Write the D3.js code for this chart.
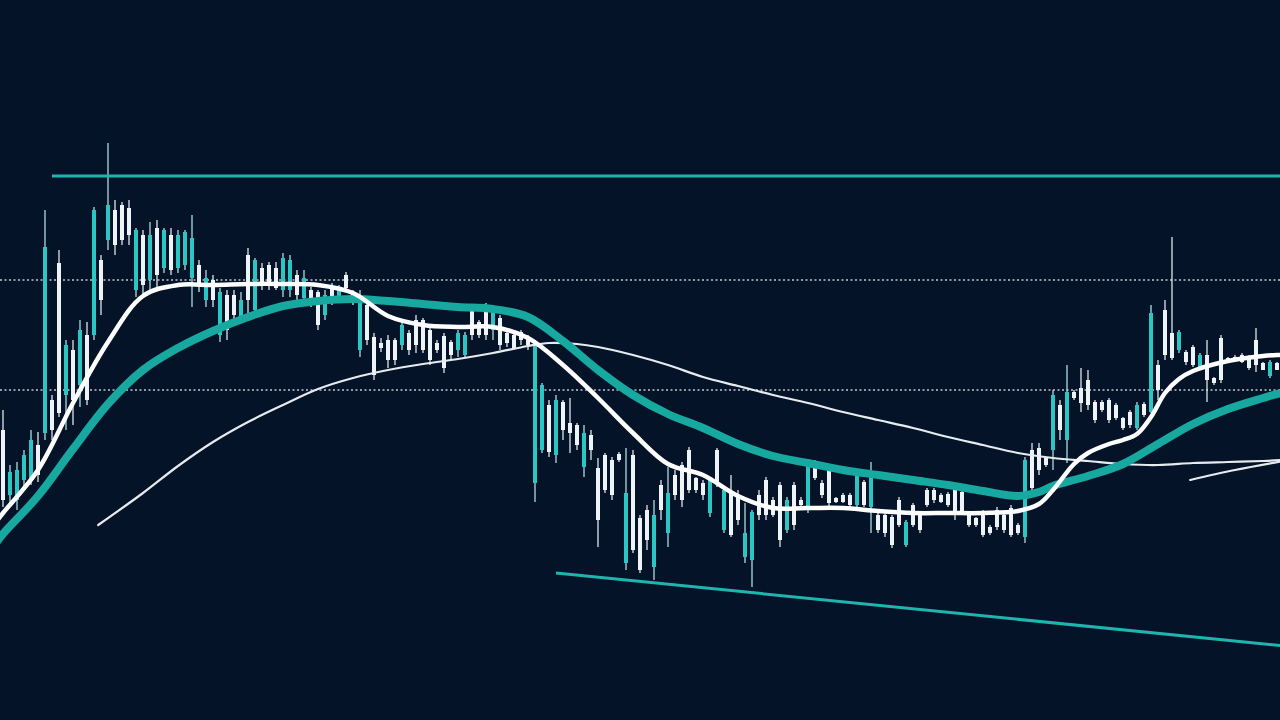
<!DOCTYPE html>
<html><head><meta charset="utf-8">
<script src="https://cdn.jsdelivr.net/npm/d3@7"></script>
<style>html,body{margin:0;padding:0;background:#041327;overflow:hidden}</style>
</head><body><svg id="c" width="1280" height="720"></svg>
<script>
// Candles: [open, high, low, close]
const candles = [
[220,310,213,290],[248,255,215,225],[250,258,210,220],[265,270,232,240],[280,290,235,242],
[245,288,238,275],[473,510,280,287],[290,325,280,320],[307,470,303,457],[375,380,290,325],
[320,380,295,370],[390,400,313,335],[320,398,315,385],[510,513,380,385],[420,465,405,460],
[515,577,470,480],[475,520,465,510],[480,518,475,515],[485,520,475,512],[490,492,423,430],
[435,490,425,485],[485,498,427,440],[445,500,430,492],[490,492,447,452],[450,492,445,485],
[485,490,447,452],[488,490,450,455],[482,505,413,442],[435,460,428,455],[442,450,413,420],
[420,445,413,440],[428,432,378,385],[390,430,380,425],[405,430,400,425],[420,428,398,402],
[420,472,403,465],[460,462,403,410],[435,457,430,452],[435,458,430,455],[432,458,430,452],
[462,467,423,430],[460,465,423,430],[425,450,417,445],[442,450,417,422],[418,433,413,430],
[395,430,390,428],[425,430,400,405],[420,437,415,434],[432,435,418,422],[432,448,430,445],
[420,430,415,428],[420,430,363,370],[380,420,375,415],[345,387,340,383],[372,382,368,377],
[360,385,352,380],[360,382,355,380],[395,398,370,375],[370,390,365,387],[375,405,367,400],
[370,402,367,400],[360,392,355,390],[370,380,367,377],[352,387,347,384],[365,380,360,378],
[387,390,363,370],[385,388,363,365],[385,415,380,412],[385,400,382,398],[385,417,380,414],
[412,415,380,390],[375,405,370,402],[377,390,373,387],[372,387,370,385],[380,390,375,388],
[375,385,370,383],[375,380,218,237],[335,337,267,270],[268,320,263,315],[320,325,257,265],
[290,320,280,318],[287,322,267,297],[275,297,270,295],[287,295,243,253],[270,290,260,285],
[200,262,173,252],[230,267,227,265],[225,263,220,260],[260,268,258,266],[227,272,150,157],
[170,270,167,265],[150,205,147,202],[180,215,170,210],[205,220,140,153],[210,240,200,235],
[227,253,173,187],[225,250,220,245],[220,258,213,255],[230,273,227,270],[230,243,227,242],
[225,240,220,237],[240,243,203,207],[237,272,233,270],[230,233,187,190],[185,245,183,228],
[200,230,195,225],[187,217,157,163],[208,210,133,160],[205,230,200,225],[205,243,200,240],
[205,223,203,220],[180,238,173,235],[220,223,187,190],[195,238,190,235],[215,223,213,220],
[255,257,207,210],[242,260,240,258],[225,240,222,237],[217,252,213,250],[218,223,217,222],
[218,227,217,225],[215,227,213,225],[245,247,213,215],[215,240,213,238],[243,258,187,213],
[190,207,187,205],[187,207,183,205],[175,205,172,203],[195,223,193,220],[198,200,173,175],
[195,217,193,215],[190,207,187,205],[215,232,213,230],[220,232,217,230],[218,227,217,225],
[215,228,213,226],[205,232,200,230],[208,230,205,228],[195,207,193,205],[195,203,193,202],
[185,210,183,208],[187,195,185,193],[193,213,190,210],[190,207,187,205],[185,215,183,212],
[187,197,185,195],[260,263,177,183],[232,277,227,270],[250,277,245,272],[255,263,253,262],
[325,330,250,270],[290,320,280,315],[328,355,257,280],[322,330,320,328],[317,352,308,332],
[315,350,310,340],[300,320,297,318],[310,320,308,318],[300,322,297,320],[302,317,300,315],
[292,303,290,302],[295,310,292,308],[315,318,290,292],[305,318,303,316],[407,415,307,308],
[330,360,320,355],[365,420,360,410],[362,483,360,387],[388,390,367,370],[358,370,355,368],
[355,375,353,373],[365,367,350,352],[340,380,318,365],[337,343,335,342],[340,385,337,382],
[358,363,357,362],[360,365,358,363],[358,367,357,365],[352,365,350,363],[355,392,348,380],
[350,358,350,357],[358,360,342,344],[350,358,350,357]
];

// Moving averages: [bar index, value]
const fastMA = [[-1,198],[0,207],[5,250],[10,317],[15,378],[20,424],[25,435],[30,435],[35,436],[40,436],[45,435],[50,427],[55,404],[60,395],[65,393],[70,393],[75,382],[80,355],[85,322],[90,287],[95,256],[100,245],[105,224],[110,212],[115,212],[120,212],[125,209],[130,207],[135,207],[140,207],[145,209],[148,216],[150,230],[153,256],[155,267],[158,276],[160,280],[162,286],[164,303],[166,327],[168,341],[170,349],[175,359],[180,364],[182,365],[183,365]];
const mediumMA = [[-1,177],[0,186],[5,224],[10,271],[15,316],[20,350],[25,372],[30,389],[35,403],[40,414],[45,419],[50,421],[55,419],[60,416],[65,413],[70,411],[75,403],[80,379],[85,350],[90,325],[95,306],[100,292],[105,276],[110,264],[115,257],[120,250],[125,245],[130,240],[135,235],[140,229],[145,224],[148,228],[150,234],[155,244],[160,256],[165,276],[170,296],[175,311],[180,322],[182,326],[183,327]];
const slowMA = [[13.6,195],[20,227],[25,254],[30,278],[35,298],[40,315],[45,331],[50,342],[55,350],[60,356],[65,361],[70,367],[75,374],[78,377],[82,376],[85,373],[90,365],[95,355],[100,343],[105,334],[110,325],[115,317],[120,308],[125,300],[130,292],[135,283],[140,275],[145,267],[150,262],[155,259],[160,256],[165,255],[170,257],[175,258],[180,259],[183,260]];
const newMA = [[169.6,240],[176,250],[183,259]];

// Drawn levels
const resistance = [[7,544],[183,544]];
const support = [[79,147],[183,74]];
const dottedLevels = [440, 330];

const W = 1280, H = 720;
const x = d3.scaleLinear().domain([0, 182]).range([3, 1277]);
const y = d3.scaleLinear().domain([0, 720]).range([720, 0]);

const svg = d3.select('#c');
svg.append('rect').attr('width', W).attr('height', H).attr('fill', '#041327');

const teal = '#1fb5ae';
const candleTeal = '#2ac6c4';
const candleWhite = '#eef3f7';

// dotted levels
svg.append('g').selectAll('line').data(dottedLevels).join('line')
  .attr('x1', 0).attr('x2', W)
  .attr('y1', d => y(d)).attr('y2', d => y(d))
  .attr('stroke', '#d3dbe3').attr('stroke-opacity', 0.9)
  .attr('stroke-width', 1.3).attr('stroke-dasharray', '2,2.5');

// candles
const cg = svg.append('g');
const bw = 4;
cg.selectAll('line').data(candles).join('line')
  .attr('x1', (d, i) => x(i)).attr('x2', (d, i) => x(i))
  .attr('y1', d => y(d[1])).attr('y2', d => y(d[2]))
  .attr('stroke', d => d[3] < d[0] ? '#a9dfe0' : '#dfe7ee')
  .attr('stroke-width', 1.3);
cg.selectAll('rect').data(candles).join('rect')
  .attr('x', (d, i) => x(i) - bw / 2).attr('width', bw)
  .attr('y', d => y(Math.max(d[0], d[3])))
  .attr('height', d => Math.max(1.5, Math.abs(y(d[0]) - y(d[3]))))
  .attr('fill', d => d[3] < d[0] ? candleTeal : candleWhite);

const line = d3.line().x(d => x(d[0])).y(d => y(d[1])).curve(d3.curveCatmullRom.alpha(0.5));
const straight = d3.line().x(d => x(d[0])).y(d => y(d[1]));

svg.append('path').datum(slowMA).attr('d', line)
  .attr('fill', 'none').attr('stroke', '#e6ebf0').attr('stroke-width', 2.2).attr('stroke-linecap', 'round');
svg.append('path').datum(newMA).attr('d', line)
  .attr('fill', 'none').attr('stroke', '#e6ebf0').attr('stroke-width', 2.2).attr('stroke-linecap', 'round');
svg.append('path').datum(mediumMA).attr('d', line)
  .attr('fill', 'none').attr('stroke', '#17a89f').attr('stroke-width', 8).attr('stroke-linecap', 'round');
svg.append('path').datum(fastMA).attr('d', line)
  .attr('fill', 'none').attr('stroke', '#ffffff').attr('stroke-width', 4.5).attr('stroke-linecap', 'round');

svg.append('path').datum(resistance).attr('d', straight)
  .attr('fill', 'none').attr('stroke', teal).attr('stroke-width', 3);
svg.append('path').datum(support).attr('d', straight)
  .attr('fill', 'none').attr('stroke', teal).attr('stroke-width', 3);
</script>
</body></html>
